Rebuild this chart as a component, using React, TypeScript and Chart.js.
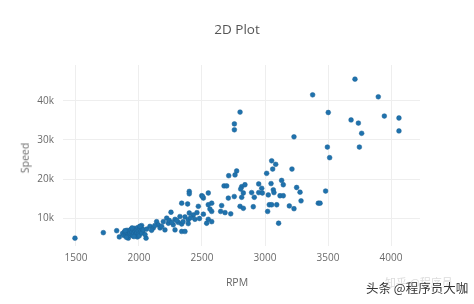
import React, { useEffect, useRef } from "react";
import { Chart, registerables } from "chart.js";

Chart.register(...registerables);

const TITLE = "2D Plot";
const X_TITLE = "RPM";
const Y_TITLE = "Speed";
const WATERMARK = "头条 @程序员大咖";
const WATERMARK_FAINT = "知乎 @程序员";

const xTicks = [1500, 2000, 2500, 3000, 3500, 4000];
const yTicks = [10000, 20000, 30000, 40000];

const rpmValues = [
  1492, 1717, 1823, 1844, 1915, 1987, 2056,
  1870, 1880, 1885, 1895, 1900, 1905, 1910, 1915, 1920, 1925, 1930, 1935, 1940, 1945,
  1950, 1955, 1960, 1965, 1970, 1975, 1980, 1985, 1990, 1995, 2000, 2005, 2010, 2015,
  2021, 2025, 2030, 1945, 1900, 1960, 1890, 2002,
  2008, 2021, 2034, 2048, 2061, 2087, 2114, 2140, 2153, 2167, 2193, 2206, 2220, 2233,
  2254, 2272, 2286, 2286, 2312, 2325, 2339, 2339, 2339, 2365, 2365, 2386, 2391, 2391,
  2399, 2399, 2399, 2431, 2444, 2471, 2498, 2511, 2511, 2550, 2577,
  2100, 2125, 2180, 2240, 2260, 2300, 2350, 2410, 2460, 2480,
  2505, 2709, 2756, 2577, 2550, 2656, 2802, 2828, 2907, 3034, 3053, 3093, 3193, 3230,
  3423, 2563, 2648, 2683, 2728, 3021, 2550, 2537, 2577, 3108,
  3053, 3085, 3061, 3214, 2775, 2712, 2762, 3013, 3132, 3145, 3048, 2950, 2675, 2696,
  2815, 2841, 2807, 2974, 3066, 3251, 2894, 2950, 3026, 3071, 3119, 3145, 3278, 3286,
  2828, 2815, 2915, 2979,
  2802, 2757, 2757, 3230, 3378,
  3714, 3899, 3502, 3683, 3741, 3947, 4063, 3767, 4063, 3495, 3749, 3513, 3481, 3437,
];

// speed in thousands
const speedValues = [
  5.0, 6.4, 6.9, 5.3, 5.0, 5.3, 5.0,
  6.2, 5.7, 6.6, 5.9, 6.4, 7.0, 5.5, 6.1, 6.8, 5.8, 6.3, 7.2, 6.0, 6.6,
  5.6, 7.0, 6.2, 7.5, 6.7, 5.9, 7.1, 6.4, 7.7, 6.9, 6.1, 7.4, 8.0, 6.8,
  8.2, 7.3, 6.5, 7.6, 5.2, 5.4, 6.9, 5.6,
  8.0, 6.3, 7.1, 5.9, 7.3, 8.0, 7.6, 9.2, 8.4, 7.6, 9.2, 7.1, 10.1, 8.8,
  11.6, 8.4, 9.8, 7.1, 9.0, 10.5, 8.6, 6.7, 13.9, 10.4, 6.7, 13.7, 9.7, 8.7,
  16.9, 16.3, 11.4, 10.9, 9.8, 13.1, 15.8, 15.2, 11.1, 16.5, 11.8,
  7.0, 8.2, 8.0, 9.5, 9.0, 9.5, 9.2, 10.2, 11.5, 10.0,
  15.6, 15.2, 15.6, 13.9, 13.5, 13.3, 13.1, 12.6, 13.0, 13.5, 13.5, 13.5, 13.2, 12.5,
  13.9, 12.4, 11.8, 11.5, 11.2, 11.8, 9.8, 8.8, 9.2, 8.8,
  24.7, 23.8, 22.6, 22.6, 22.1, 20.9, 21.1, 21.5, 19.7, 18.6, 18.9, 18.8, 18.3, 18.3,
  18.1, 18.6, 17.5, 17.7, 17.3, 17.9, 16.6, 16.6, 16.0, 16.6, 15.8, 15.8, 16.7, 14.5,
  16.5, 15.4, 15.4, 16.5,
  37.1, 34.1, 32.6, 30.8, 41.5,
  45.5, 41.0, 37.0, 35.1, 34.3, 36.1, 35.6, 31.7, 32.3, 28.2, 28.2, 25.5, 17.0, 13.9,
];

const FONT = "'Open Sans', 'Noto Sans', sans-serif";

export default function App() {
  const canvasRef = useRef<HTMLCanvasElement | null>(null);

  useEffect(() => {
    document.body.style.margin = "0";
    const ctx = canvasRef.current;
    if (!ctx) return;
    const points = rpmValues.map((r, i) => ({ x: r, y: speedValues[i] * 1000 }));
    const chart = new Chart(ctx, {
      type: "scatter",
      data: {
        datasets: [
          {
            data: points,
            backgroundColor: "#1f72ad",
            borderColor: "#1d6296",
            borderWidth: 0.5,
            pointRadius: 2.4,
          },
        ],
      },
      options: {
        animation: false,
        responsive: false,
        maintainAspectRatio: false,
        layout: { padding: { left: 0, right: 54, top: 65, bottom: 0 } },
        plugins: {
          legend: { display: false },
          tooltip: { enabled: false },
          title: { display: false },
        },
        scales: {
          x: {
            type: "linear",
            min: 1397,
            max: 4230,
            border: { display: false },
            grid: { color: "#eeeeee", drawTicks: false, lineWidth: 1 },
            afterBuildTicks: (scale: any) => {
              scale.ticks = xTicks.map((v) => ({ value: v }));
            },
            afterFit: (scale: any) => {
              scale.height = 58;
            },
            ticks: {
              padding: 6,
              color: "#6a6a6a",
              font: { family: FONT, size: 10 },
              maxRotation: 0,
              callback: (v: any) => String(v),
            },
          },
          y: {
            type: "linear",
            min: 3000,
            max: 49100,
            border: { display: false },
            grid: { color: "#eeeeee", drawTicks: false, lineWidth: 1 },
            afterBuildTicks: (scale: any) => {
              scale.ticks = yTicks.map((v) => ({ value: v }));
            },
            afterFit: (scale: any) => {
              scale.width = 63;
            },
            ticks: {
              padding: 9,
              color: "#6a6a6a",
              font: { family: FONT, size: 10 },
              callback: (v: any) => Number(v) / 1000 + "k",
            },
          },
        },
      },
    });
    return () => chart.destroy();
  }, []);

  const textBase: React.CSSProperties = {
    position: "absolute",
    fontFamily: FONT,
    whiteSpace: "nowrap",
    lineHeight: 1,
  };

  return (
    <div
      style={{
        position: "fixed",
        left: 0,
        top: 0,
        width: 474,
        height: 304,
        background: "#fff",
        overflow: "hidden",
      }}
    >
      <canvas ref={canvasRef} width={474} height={304} style={{ position: "absolute", left: 0, top: 0 }} />
      <div
        style={{
          ...textBase,
          left: 237,
          top: 30,
          transform: "translate(-50%, -50%)",
          fontSize: 13.5,
          color: "#555",
        }}
      >
        {TITLE}
      </div>
      <div
        style={{
          ...textBase,
          left: 237,
          top: 282,
          transform: "translate(-50%, -50%)",
          fontSize: 10.5,
          color: "#666",
        }}
      >
        {X_TITLE}
      </div>
      <div
        style={{
          ...textBase,
          left: 25,
          top: 158,
          transform: "translate(-50%, -50%) rotate(-90deg)",
          fontSize: 10.5,
          color: "#666",
        }}
      >
        {Y_TITLE}
      </div>
      <div
        style={{
          ...textBase,
          left: 385,
          top: 277,
          fontFamily: "'Noto Sans CJK SC', sans-serif",
          fontSize: 11,
          color: "#dcdcdc",
        }}
      >
        {WATERMARK_FAINT}
      </div>
      <div
        style={{
          ...textBase,
          left: 366,
          top: 282,
          fontFamily: "'Noto Sans CJK SC', sans-serif",
          fontSize: 12.5,
          color: "#333",
          textShadow: "0 0 2px #fff, 0 0 2px #fff",
        }}
      >
        {WATERMARK}
      </div>
    </div>
  );
}
